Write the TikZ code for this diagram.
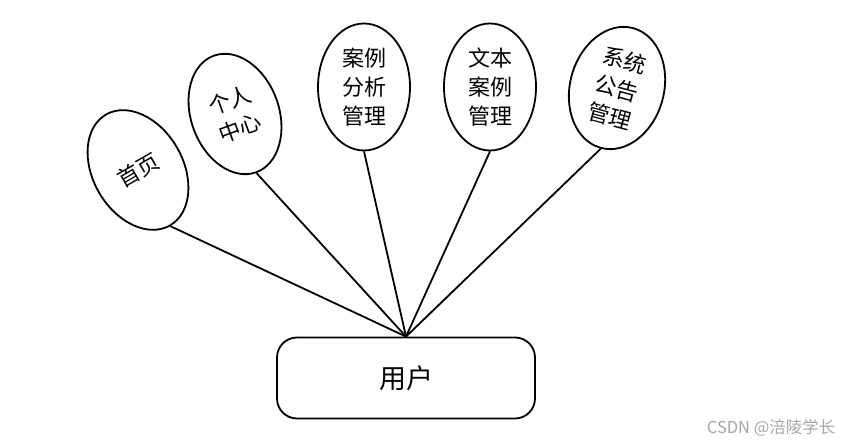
\documentclass[tikz,border=0pt]{standalone}
\usepackage{fontspec}
\usetikzlibrary{shapes.geometric}
\newfontfamily\cjk{Noto Sans CJK SC}

\begin{document}
\begin{tikzpicture}[x=1pt, y=1pt,
  fn/.style={draw, ellipse, line width=1.8pt, inner sep=0pt,
    minimum width=92pt, minimum height=127pt, align=center,
    font=\cjk\fontsize{22}{29}\selectfont},
  link/.style={line width=1.8pt}]

  % --- 1. 画布 ---
  \useasboundingbox (0,0) rectangle (854,446);

  % --- 2. 用户 ---
  \node[draw, line width=1.8pt, rounded corners=20pt, minimum width=258pt,
    minimum height=81pt, font=\cjk\fontsize{27}{30}\selectfont]
    (user) at (406,68) {用户};

  % --- 3. 功能模块 ---
  \node[fn, minimum width=90pt, minimum height=128pt, rotate=30] (home) at (138,276) {首页};
  \node[fn, minimum width=88pt, minimum height=124pt, rotate=20] (center) at (235,332) {个人\\中心};
  \node[fn] (anli) at (364,359) {案例\\分析\\管理};
  \node[fn] (wenben) at (490,359) {文本\\案例\\管理};
  \node[fn, minimum width=94pt, minimum height=124pt, rotate=-15] (notice) at (617,358) {系统\\公告\\管理};

  % --- 4. 连线 ---
  \foreach \m in {home, center, anli, wenben, notice}
    \draw[link] (user.north) -- (\m.south);

  % 水印
  \node[text=gray!70, font=\cjk\fontsize{16.5}{18}\selectfont, anchor=east]
    (mark) at (839,18) {CSDN @涪陵学长};

\end{tikzpicture}
\end{document}
